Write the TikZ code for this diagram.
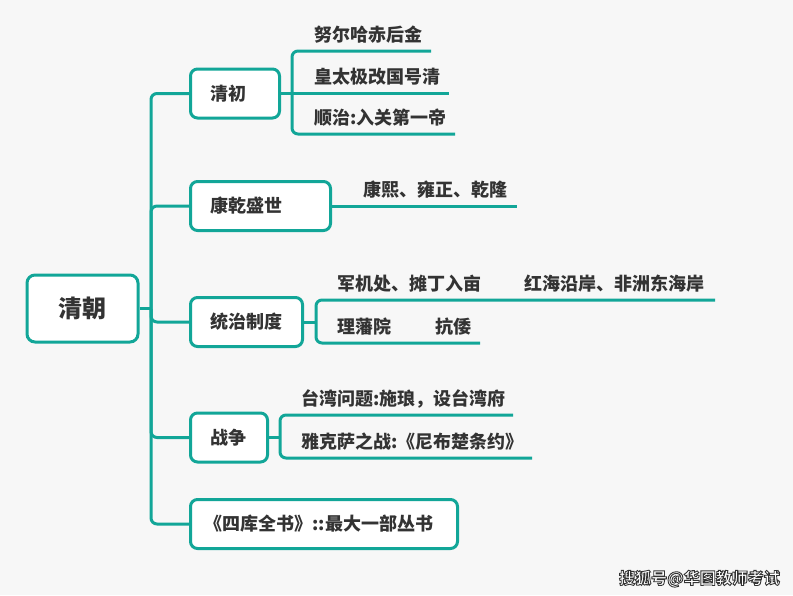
\documentclass[tikz,border=0pt]{standalone}
\usepackage{fontspec}
\setmainfont{Noto Sans CJK SC}
\definecolor{teal1}{RGB}{18,166,152}
\definecolor{ink}{RGB}{51,51,51}
\definecolor{bgc}{RGB}{247,247,247}
\begin{document}
\begin{tikzpicture}[x=1pt,y=-1pt,
    topic/.style={rounded corners=8pt,draw=teal1,line width=3pt,fill=white,
                  font=\fontsize{24}{28}\selectfont\bfseries,text=ink,
                  minimum width=111pt,minimum height=67pt},
    sub/.style={rounded corners=7pt,draw=teal1,line width=3pt,fill=white,
                font=\fontsize{18}{22}\selectfont\bfseries,text=ink,
                anchor=west,inner xsep=20pt,minimum height=49pt,align=left},
    leaf/.style={anchor=base west,inner sep=0pt,text=ink,
                 font=\fontsize{18}{22}\selectfont\bfseries},
    br/.style={draw=teal1,line width=3pt,rounded corners=6pt}]
    \path[use as bounding box,fill=bgc] (0,0) rectangle (793,595);
    % main topic and its branches
    \node[topic] (root) at (82.5,308.5) {清朝};
    \node[sub,text width=49pt]  (qc) at (189,93.5)  {清初};
    \node[sub,text width=100pt] (kq) at (189,206)   {康乾盛世};
    \node[sub,text width=72pt]  (tz) at (189,322)   {统治制度};
    \node[sub,text width=37pt]  (zz) at (189,437.5) {战争};
    \node[sub,inner xsep=14pt,text width=239pt] (sk) at (189,524)
      {《四库全书》::最大一部丛书};
    \coordinate (trunk) at (151,308.5);
    \draw[br] (root.east) -- (trunk);
    \draw[br] (qc.west) -| (trunk) |- (sk.west);
    \draw[br] (trunk) |- (kq.west);
    \draw[br] (trunk) |- (tz.west);
    \draw[br] (trunk) |- (zz.west);
    % 清初
    \coordinate (qcb) at (292,93.5);
    \coordinate (e11) at (431,51);
    \coordinate (e12) at (449,93.5);
    \coordinate (e13) at (455,134);
    \draw[br] (qc.east) -- (e12);
    \draw[br] (e11) -| (qcb) |- (e13);
    \node[leaf] (l11) at (314,41)   {努尔哈赤后金};
    \node[leaf] (l12) at (314,83.5) {皇太极改国号清};
    \node[leaf] (l13) at (314,124)  {顺治:入关第一帝};
    % 康乾盛世
    \coordinate (e21) at (517,206);
    \draw[br] (kq.east) -- (e21);
    \node[leaf] (l21) at (363,196) {康熙、雍正、乾隆};
    % 统治制度
    \coordinate (tzb) at (316,322);
    \coordinate (e31) at (715,300);
    \coordinate (e32) at (480,343);
    \draw[br] (tz.east) -- (tzb);
    \draw[br] (e31) -| (tzb) |- (e32);
    \node[leaf] (l31) at (337,290) {军机处、摊丁入亩};
    \node[leaf] (l32) at (524,290) {红海沿岸、非洲东海岸};
    \node[leaf] (l33) at (337,333) {理藩院};
    \node[leaf] (l34) at (435,333) {抗倭};
    % 战争
    \coordinate (zzb) at (280,437.5);
    \coordinate (e41) at (513,415);
    \coordinate (e42) at (532,458);
    \draw[br] (zz.east) -- (zzb);
    \draw[br] (e41) -| (zzb) |- (e42);
    \node[leaf] (l41) at (301,405) {台湾问题:施琅，设台湾府};
    \node[leaf] (l42) at (301,448) {雅克萨之战:《尼布楚条约》};
    % watermark
    \node[anchor=base east,inner sep=0pt,font=\fontsize{16}{18}\selectfont\bfseries]
      (wm) at (780,584)
      {\color{white}\special{pdf:literal direct 0.2 G 0.9 w 2 Tr}搜狐号@华图教师考试\special{pdf:literal direct 0 Tr}};
\end{tikzpicture}
\end{document}
